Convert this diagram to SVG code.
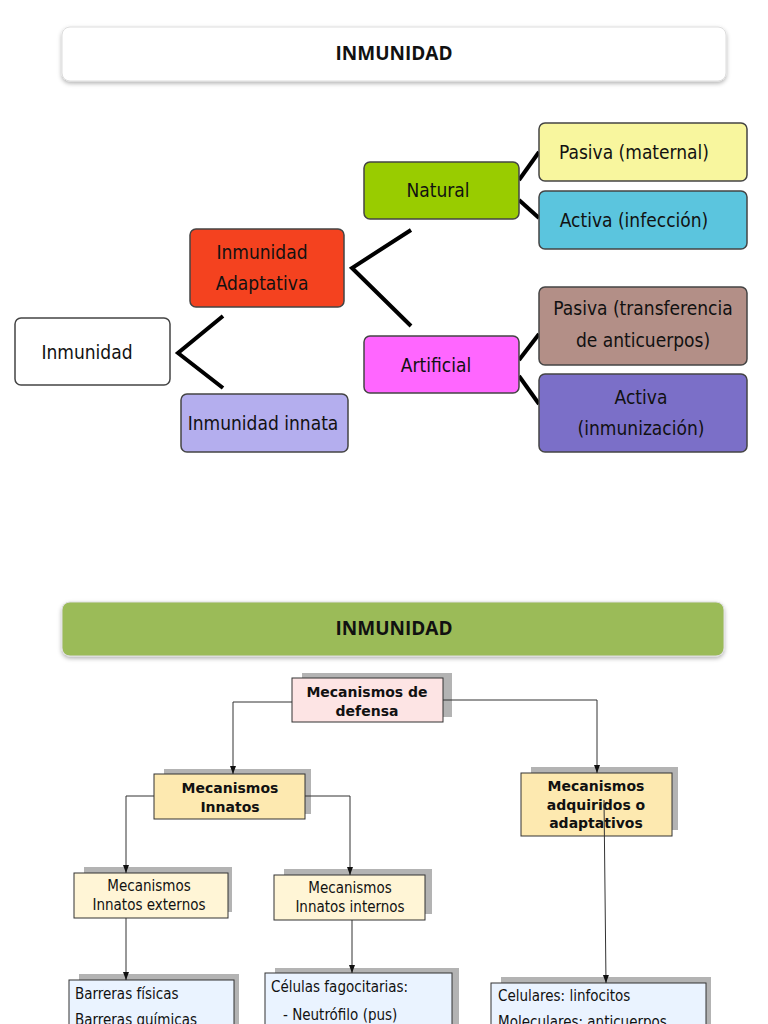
<svg xmlns="http://www.w3.org/2000/svg" width="768" height="1024" viewBox="0 0 768 1024">
<defs>
<marker id="ar" markerWidth="8" markerHeight="8" refX="8" refY="4" orient="auto" markerUnits="userSpaceOnUse"><path d="M0,1 L8,4 L0,7 Z" fill="#111"/></marker>
<filter id="sh" x="-10%" y="-20%" width="120%" height="150%"><feDropShadow dx="0" dy="2" stdDeviation="2" flood-color="#000" flood-opacity="0.3"/></filter>
</defs>
<style>
.t{font-family:"DejaVu Sans Condensed","DejaVu Sans",sans-serif;font-stretch:condensed;font-size:19px;fill:#111;text-anchor:middle}
.h{font-family:"Open Sans","DejaVu Sans",sans-serif;font-weight:bold;font-size:19px;fill:#111;text-anchor:middle}
.n{stroke:#444;stroke-width:1.5}
.b{font-family:"DejaVu Sans",sans-serif;font-weight:bold;font-size:14px;fill:#111;text-anchor:middle}
.r{font-family:"DejaVu Sans Condensed","DejaVu Sans",sans-serif;font-stretch:condensed;font-size:15px;fill:#111;text-anchor:middle}
.l{font-family:"DejaVu Sans Condensed","DejaVu Sans",sans-serif;font-stretch:condensed;font-size:15px;fill:#111}
.s{fill:#b3b3b3}
.bx{stroke:#333;stroke-width:1}
.k{stroke:#000;stroke-width:4;fill:none}
.c{stroke:#333;stroke-width:1;fill:none}
</style>
<rect width="768" height="1024" fill="#fff"/>
<g id="header1"><rect x="62" y="27" width="664" height="54" rx="8" fill="#fff" stroke="#ddd" filter="url(#sh)"/><text class="h" x="394" y="60">INMUNIDAD</text></g>
<g id="connectors-top">
<polyline class="k" points="223,316 178,353 223,388"/>
<polyline class="k" points="411,230 352,268 411,326"/>
<polyline class="k" points="539,152 519,180"/>
<polyline class="k" points="519,200 539,218"/>
<polyline class="k" points="539,334 519,360"/>
<polyline class="k" points="519,376 539,404"/>
</g>
<g id="inmunidad"><rect class="n" x="15" y="318" width="155" height="67" rx="6" fill="#fff"/><text class="t" x="87" y="359">Inmunidad</text></g>
<g id="adaptativa"><rect class="n" x="190" y="229" width="154" height="78" rx="6" fill="#F4421F"/><text class="t" x="262" y="259">Inmunidad</text><text class="t" x="262" y="290">Adaptativa</text></g>
<g id="innata"><rect class="n" x="181" y="394" width="167" height="58" rx="6" fill="#B4AEEE"/><text class="t" x="263" y="430" font-size="18">Inmunidad innata</text></g>
<g id="natural"><rect class="n" x="364" y="162" width="155" height="57" rx="6" fill="#99CC00"/><text class="t" x="438" y="197">Natural</text></g>
<g id="artificial"><rect class="n" x="364" y="336" width="155" height="57" rx="6" fill="#FF66FF"/><text class="t" x="436" y="372">Artificial</text></g>
<g id="pasiva-maternal"><rect class="n" x="539" y="123" width="208" height="58" rx="6" fill="#F8F69E"/><text class="t" x="634" y="159">Pasiva (maternal)</text></g>
<g id="activa-infeccion"><rect class="n" x="539" y="191" width="208" height="58" rx="6" fill="#5BC5DE"/><text class="t" x="634" y="227">Activa (infección)</text></g>
<g id="pasiva-transf"><rect class="n" x="539" y="287" width="208" height="78" rx="6" fill="#B38F87"/><text class="t" x="643" y="315">Pasiva (transferencia</text><text class="t" x="643" y="347">de anticuerpos)</text></g>
<g id="activa-inmun"><rect class="n" x="539" y="374" width="208" height="78" rx="6" fill="#7B6FC8"/><text class="t" x="641" y="404">Activa</text><text class="t" x="641" y="435">(inmunización)</text></g>

<g id="header2"><rect x="62" y="602" width="662" height="54" rx="8" fill="#9BBB59" stroke="#ddd" filter="url(#sh)"/><text class="h" x="394" y="635">INMUNIDAD</text></g>
<g id="defensa"><rect class="s" x="302" y="673" width="150" height="44"/><rect class="bx" x="292" y="678" width="151" height="44" fill="#FDE4E4"/><text class="b" x="367" y="697">Mecanismos de</text><text class="b" x="367" y="716">defensa</text></g>
<g id="innatos"><rect class="s" x="164" y="769" width="147" height="45"/><rect class="bx" x="154" y="774" width="151" height="45" fill="#FDE9B0"/><text class="b" x="230" y="793">Mecanismos</text><text class="b" x="230" y="812">Innatos</text></g>
<g id="adquiridos"><rect class="s" x="531" y="767" width="147" height="63"/><rect class="bx" x="521" y="773" width="151" height="63" fill="#FDE9B0"/><text class="b" x="596" y="791">Mecanismos</text><text class="b" x="596" y="810">adquiridos o</text><text class="b" x="596" y="828">adaptativos</text></g>
<g id="externos"><rect class="s" x="84" y="867" width="148" height="45"/><rect class="bx" x="74" y="873" width="154" height="45" fill="#FFF5D6"/><text class="r" x="149" y="891">Mecanismos</text><text class="r" x="149" y="910">Innatos externos</text></g>
<g id="internos"><rect class="s" x="284" y="869" width="148" height="45"/><rect class="bx" x="274" y="875" width="151" height="45" fill="#FFF5D6"/><text class="r" x="350" y="893">Mecanismos</text><text class="r" x="350" y="912">Innatos internos</text></g>
<g id="barreras"><rect class="s" x="79" y="974" width="160" height="60"/><rect class="bx" x="69" y="980" width="165" height="60" fill="#EAF3FF"/><text class="l" x="75" y="999">Barreras físicas</text><text class="l" x="75" y="1025">Barreras químicas</text></g>
<g id="celulas"><rect class="s" x="275" y="968" width="184" height="66"/><rect class="bx" x="265" y="973" width="187" height="66" fill="#EAF3FF"/><text class="l" x="271" y="992">Células fagocitarias:</text><text class="l" x="283" y="1020">- Neutrófilo (pus)</text></g>
<g id="celulares"><rect class="s" x="501" y="977" width="210" height="60"/><rect class="bx" x="491" y="983" width="215" height="60" fill="#EAF3FF"/><text class="l" x="498" y="1001">Celulares: linfocitos</text><text class="l" x="498" y="1027">Moleculares: anticuerpos</text></g>
<g id="connectors-bottom">
<polyline class="c" points="292,702 233,702 233,774" marker-end="url(#ar)"/>
<polyline class="c" points="443,700 597,700 597,773" marker-end="url(#ar)"/>
<polyline class="c" points="154,796 126,796 126,873" marker-end="url(#ar)"/>
<polyline class="c" points="305,796 350,796 350,875" marker-end="url(#ar)"/>
<polyline class="c" points="126,918 126,980" marker-end="url(#ar)"/>
<polyline class="c" points="352,920 352,973" marker-end="url(#ar)"/>
<polyline class="c" points="604,800 606,983" marker-end="url(#ar)"/>
</g>
</svg>
